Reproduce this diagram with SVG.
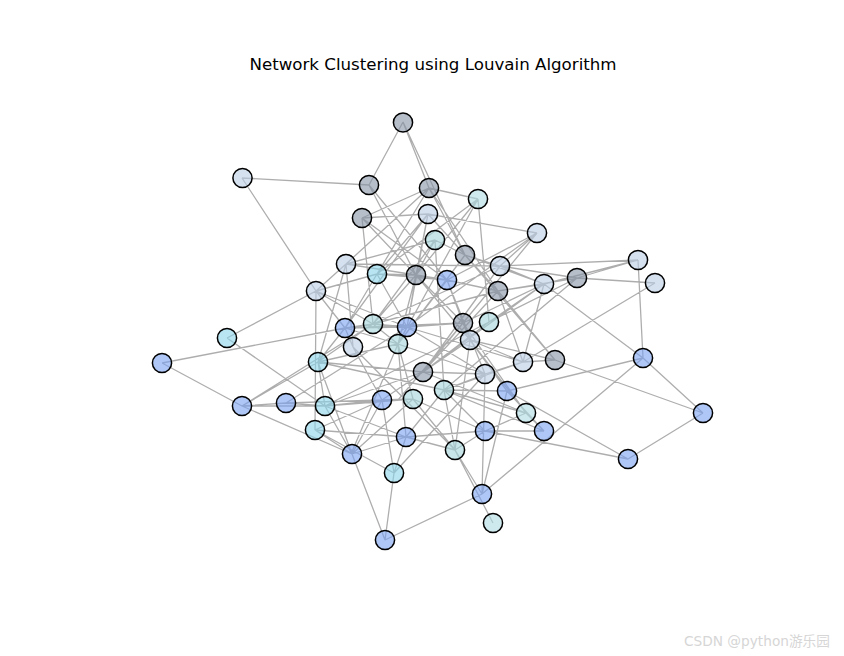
<svg xmlns="http://www.w3.org/2000/svg" width="844" height="656" viewBox="0 0 844 656">
<style>
.e{stroke:#000;stroke-opacity:.32;stroke-width:1.3;fill:none}
.n{stroke:#000;stroke-width:1.5;fill-opacity:.6}
.g{fill:#8593a5}.p{fill:#bbcde4}.b{fill:#78a2f2}.l{fill:#89d4e8}.c{fill:#a3d5dc}.d{fill:#afdce3}
text{font-family:"DejaVu Sans",sans-serif}
</style>
<rect width="844" height="656" fill="#fff"/>
<text x="433" y="70" font-size="16.67" text-anchor="middle" fill="#000">Network Clustering using Louvain Algorithm</text>
<g id="connectors" class="e">
<path d="M403 122L369 185M403 122L429 188M403 122L465 255M242 178L369 185M242 178L316 291M369 185L447 280M369 185L416 275M429 188L478 199M429 188L362 218M429 188L377 274M429 188L465 255M429 188L346 264M429 188L498 291M362 218L428 214M362 218L373 324M362 218L416 275M362 218L447 280M428 214L537 233M428 214L345 328M428 214L377 274M428 214L416 275M428 214L465 255M428 214L407 327M478 199L416 275M478 199L398 344M478 199L489 322M478 199L377 274M435 240L465 255M435 240L416 275M435 240L444 390M435 240L346 264M435 240L373 324M537 233L500 266M537 233L407 327M537 233L463 323M537 233L447 280M465 255L500 266M465 255L544 284M465 255L498 291M465 255L555 360M465 255L398 344M500 266L638 260M500 266L577 278M500 266L544 284M500 266L346 264M500 266L373 324M500 266L423 372M346 264L316 291M346 264L318 362M346 264L353 347M346 264L416 275M377 274L316 291M377 274L416 275M377 274L447 280M377 274L345 328M377 274L407 327M416 275L447 280M416 275L407 327M416 275L373 324M416 275L470 340M416 275L398 344M416 275L463 323M447 280L498 291M447 280L398 344M447 280L485 374M447 280L463 323M498 291L544 284M498 291L577 278M498 291L555 360M498 291L523 362M498 291L423 372M498 291L373 324M544 284L638 260M577 278L638 260M577 278L655 283M577 278L489 322M544 284L489 322M544 284L643 358M544 284L523 362M544 284L463 323M544 284L423 372M577 278L444 390M655 283L523 362M638 260L643 358M316 291L345 328M316 291L373 324M316 291L407 327M316 291L315 430M316 291L227 338M227 338L325 406M162 363L345 328M162 363L242 406M345 328L353 347M345 328L373 324M345 328L318 362M345 328L407 327M345 328L398 344M373 324L407 327M373 324L398 344M373 324L318 362M373 324L242 406M407 327L463 323M407 327L463 323M407 327L398 344M407 327L485 374M407 327L286 403M407 327L523 362M398 344L413 399M398 344L406 437M398 344L485 374M398 344L351 454M463 323L470 340M463 323L526 413M463 323L398 400M463 323L423 372M463 323L345 328M489 322L423 372M489 322L325 406M470 340L507 391M470 340L526 413M470 340L523 362M470 340L555 360M470 340L455 450M470 340L382 400M353 347L382 400M353 347L455 450M318 362L242 406M318 362L325 406M318 362L352 454M318 362L444 390M318 362L398 344M318 362L423 372M523 362L444 390M523 362L555 360M523 362L485 374M555 360L703 413M643 358L703 413M643 358L507 391M643 358L482 494M703 413L628 459M628 459L485 431M628 459L507 391M423 372L485 374M423 372L526 413M423 372L382 400M423 372L325 406M485 374L444 390M485 374L394 473M485 374L482 494M507 391L444 390M507 391L482 494M507 391L544 431M444 390L526 413M444 390L544 431M444 390L455 450M444 390L406 437M444 390L485 431M242 406L286 403M242 406L325 406M242 406L352 454M286 403L325 406M286 403L413 399M286 403L382 400M325 406L382 400M325 406L413 399M325 406L406 437M325 406L352 454M382 400L315 430M382 400L413 399M382 400L352 454M382 400L394 473M413 399L352 454M413 399L485 431M413 399L455 450M526 413L485 431M526 413L544 431M315 430L406 437M315 430L352 454M315 430L394 473M406 437L352 454M406 437L394 473M406 437L485 431M406 437L455 450M485 431L544 431M485 431L455 450M455 450L482 494M455 450L493 523M352 454L385 540M394 473L385 540M385 540L482 494"/>
</g>
<g id="nodes">
<g id="n1"><circle class="n g" cx="403" cy="122.500" r="9.6"/></g>
<g id="n2"><circle class="n p" cx="242.500" cy="178" r="9.6"/></g>
<g id="n3"><circle class="n g" cx="369" cy="185" r="9.6"/></g>
<g id="n4"><circle class="n g" cx="429" cy="188" r="9.6"/></g>
<g id="n5"><circle class="n d" cx="478" cy="199" r="9.6"/></g>
<g id="n6"><circle class="n g" cx="362" cy="218" r="9.6"/></g>
<g id="n7"><circle class="n p" cx="428" cy="214" r="9.6"/></g>
<g id="n8"><circle class="n c" cx="435" cy="240" r="9.6"/></g>
<g id="n9"><circle class="n p" cx="537" cy="233" r="9.6"/></g>
<g id="n10"><circle class="n g" cx="465" cy="255" r="9.6"/></g>
<g id="n11"><circle class="n p" cx="500" cy="266" r="9.6"/></g>
<g id="n12"><circle class="n p" cx="346" cy="264" r="9.6"/></g>
<g id="n13"><circle class="n l" cx="377" cy="274" r="9.6"/></g>
<g id="n14"><circle class="n g" cx="416" cy="275" r="9.6"/></g>
<g id="n15"><circle class="n b" cx="447" cy="280" r="9.6"/></g>
<g id="n16"><circle class="n g" cx="498" cy="291" r="9.6"/></g>
<g id="n17"><circle class="n p" cx="544" cy="284" r="9.6"/></g>
<g id="n18"><circle class="n g" cx="577" cy="278" r="9.6"/></g>
<g id="n19"><circle class="n p" cx="638" cy="260" r="9.6"/></g>
<g id="n20"><circle class="n p" cx="655" cy="283" r="9.6"/></g>
<g id="n21"><circle class="n p" cx="316" cy="291" r="9.6"/></g>
<g id="n22"><circle class="n b" cx="345" cy="328" r="9.6"/></g>
<g id="n23"><circle class="n c" cx="373" cy="324" r="9.6"/></g>
<g id="n24"><circle class="n b" cx="407" cy="327" r="9.6"/></g>
<g id="n25"><circle class="n g" cx="463" cy="323" r="9.6"/></g>
<g id="n26"><circle class="n c" cx="489" cy="322" r="9.6"/></g>
<g id="n27"><circle class="n l" cx="227" cy="338" r="9.6"/></g>
<g id="n28"><circle class="n p" cx="353" cy="347" r="9.6"/></g>
<g id="n29"><circle class="n c" cx="398" cy="344" r="9.6"/></g>
<g id="n30"><circle class="n p" cx="470" cy="340" r="9.6"/></g>
<g id="n31"><circle class="n b" cx="162" cy="363" r="9.6"/></g>
<g id="n32"><circle class="n l" cx="318" cy="362" r="9.6"/></g>
<g id="n33"><circle class="n p" cx="523" cy="362" r="9.6"/></g>
<g id="n34"><circle class="n g" cx="555" cy="360" r="9.6"/></g>
<g id="n35"><circle class="n b" cx="643" cy="358" r="9.6"/></g>
<g id="n36"><circle class="n g" cx="423" cy="372" r="9.6"/></g>
<g id="n37"><circle class="n p" cx="485" cy="374" r="9.6"/></g>
<g id="n38"><circle class="n c" cx="444" cy="390" r="9.6"/></g>
<g id="n39"><circle class="n b" cx="507" cy="391" r="9.6"/></g>
<g id="n40"><circle class="n b" cx="242" cy="406" r="9.6"/></g>
<g id="n41"><circle class="n b" cx="286" cy="403" r="9.6"/></g>
<g id="n42"><circle class="n l" cx="325" cy="406" r="9.6"/></g>
<g id="n43"><circle class="n b" cx="382" cy="400" r="9.6"/></g>
<g id="n44"><circle class="n c" cx="413" cy="399" r="9.6"/></g>
<g id="n45"><circle class="n d" cx="526" cy="413" r="9.6"/></g>
<g id="n46"><circle class="n b" cx="703" cy="413" r="9.6"/></g>
<g id="n47"><circle class="n l" cx="315" cy="430" r="9.6"/></g>
<g id="n48"><circle class="n b" cx="406" cy="437" r="9.6"/></g>
<g id="n49"><circle class="n b" cx="485" cy="431" r="9.6"/></g>
<g id="n50"><circle class="n b" cx="544" cy="431" r="9.6"/></g>
<g id="n51"><circle class="n b" cx="352" cy="454" r="9.6"/></g>
<g id="n52"><circle class="n c" cx="455" cy="450" r="9.6"/></g>
<g id="n53"><circle class="n l" cx="394" cy="473" r="9.6"/></g>
<g id="n54"><circle class="n b" cx="628" cy="459" r="9.6"/></g>
<g id="n55"><circle class="n b" cx="482" cy="494" r="9.6"/></g>
<g id="n56"><circle class="n d" cx="493" cy="523" r="9.6"/></g>
<g id="n57"><circle class="n b" cx="385" cy="540" r="9.6"/></g>
</g>
<text x="684" y="646" font-size="14" fill="#d6d6d6" style="font-family:'DejaVu Sans','Noto Sans CJK SC',sans-serif" textLength="146" lengthAdjust="spacingAndGlyphs">CSDN @python游乐园</text>
</svg>
